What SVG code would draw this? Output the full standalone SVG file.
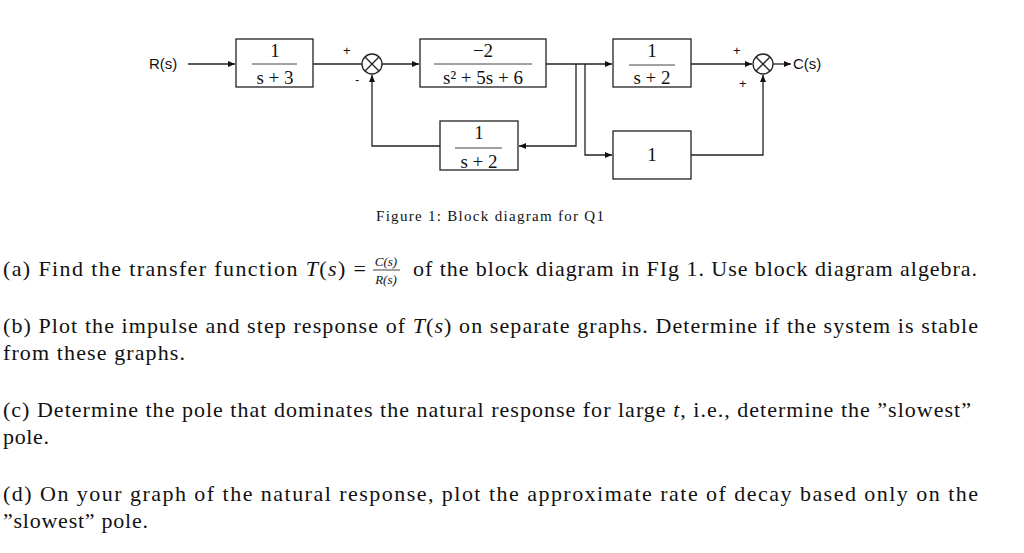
<svg xmlns="http://www.w3.org/2000/svg" width="1024" height="553" viewBox="0 0 1024 553">
<style>
.b{fill:#fff;stroke:#222;stroke-width:1.3}
.l{fill:none;stroke:#222;stroke-width:1.3}
.fr{stroke:#444;stroke-width:1}
</style>
<defs><marker id="a" markerWidth="8" markerHeight="8" refX="7" refY="4" orient="auto" markerUnits="userSpaceOnUse"><path d="M0,1 L7,4 L0,7 z" fill="#111"/></marker></defs>
<g id="connectors">
<path class="l" d="M188,64 H235" marker-end="url(#a)"/>
<path class="l" d="M313,64 H362"/>
<path class="l" d="M382,64 H419" marker-end="url(#a)"/>
<path class="l" d="M546,64 H612" marker-end="url(#a)"/>
<path class="l" d="M576,64 V146 H519" marker-end="url(#a)"/>
<path class="l" d="M440,146 H372 V75" marker-end="url(#a)"/>
<path class="l" d="M585,64 V155 H612" marker-end="url(#a)"/>
<path class="l" d="M691,64 H752" marker-end="url(#a)"/>
<path class="l" d="M691,155 H763 V75" marker-end="url(#a)"/>
<path class="l" d="M773,64 H791" marker-end="url(#a)"/>
</g>
<g font-family="'Liberation Sans', sans-serif" font-size="15" fill="#111">
<g id="R"><text x="149" y="69">R(s)</text></g>
<g id="C"><text x="793" y="69">C(s)</text></g>
</g>
<g font-family="'Liberation Serif', serif" font-size="19" text-anchor="middle" fill="#111">
<g id="b1"><rect class="b" x="236" y="39" width="77" height="48"/><text x="275" y="57">1</text><line class="fr" x1="252" y1="64" x2="297" y2="64"/><text x="275" y="84">s + 3</text></g>
<g id="b2"><rect class="b" x="420" y="39" width="126" height="48"/><text x="483" y="57">−2</text><line class="fr" x1="434" y1="64" x2="532" y2="64"/><text x="483" y="84">s² + 5s + 6</text></g>
<g id="b3"><rect class="b" x="440" y="121" width="78" height="49"/><text x="479" y="139">1</text><line class="fr" x1="455" y1="148" x2="502" y2="148"/><text x="479" y="168">s + 2</text></g>
<g id="b4"><rect class="b" x="613" y="39" width="78" height="48"/><text x="652" y="57">1</text><line class="fr" x1="629" y1="65" x2="675" y2="65"/><text x="652" y="84">s + 2</text></g>
<g id="b5"><rect class="b" x="613" y="131" width="78" height="48"/><text x="652" y="161">1</text></g>
</g>
<g font-family="'Liberation Sans', sans-serif" font-size="13" fill="#111">
<g id="sum1"><circle class="b" cx="372" cy="64" r="10"/><path class="l" d="M365,57 L379,71 M379,57 L365,71"/><text x="343" y="55">+</text><text x="355" y="84">-</text></g>
<g id="sum2"><circle class="b" cx="763" cy="64" r="10"/><path class="l" d="M756,57 L770,71 M770,57 L756,71"/><text x="733" y="55">+</text><text x="739" y="88">+</text></g>
</g>
<g id="text" font-family="'Liberation Serif', serif" font-size="22" fill="#111">
<text x="490" y="221" font-size="15" text-anchor="middle" textLength="228" lengthAdjust="spacing">Figure 1: Block diagram for Q1</text>
<text x="3" y="276" textLength="363" lengthAdjust="spacing">(a) Find the transfer function <tspan font-style="italic">T</tspan>(<tspan font-style="italic">s</tspan>) =</text>
<text x="386" y="266" font-size="13" font-style="italic" text-anchor="middle">C(s)</text>
<line x1="373" y1="270" x2="400" y2="270" stroke="#111" stroke-width="0.8"/>
<text x="386" y="284" font-size="13" font-style="italic" text-anchor="middle">R(s)</text>
<text x="413" y="276" textLength="564" lengthAdjust="spacing">of the block diagram in FIg 1.  Use block diagram algebra.</text>
<text x="3" y="333" textLength="975" lengthAdjust="spacing">(b) Plot the impulse and step response of <tspan font-style="italic">T</tspan>(<tspan font-style="italic">s</tspan>) on separate graphs.  Determine if the system is stable</text>
<text x="3" y="360" textLength="182" lengthAdjust="spacing">from these graphs.</text>
<text x="3" y="417" textLength="968" lengthAdjust="spacing">(c) Determine the pole that dominates the natural response for large <tspan font-style="italic">t</tspan>, i.e., determine the ”slowest”</text>
<text x="3" y="444" textLength="46" lengthAdjust="spacing">pole.</text>
<text x="3" y="501" textLength="975" lengthAdjust="spacing">(d) On your graph of the natural response, plot the approximate rate of decay based only on the</text>
<text x="3" y="528" textLength="145" lengthAdjust="spacing">”slowest” pole.</text>
</g>
</svg>
